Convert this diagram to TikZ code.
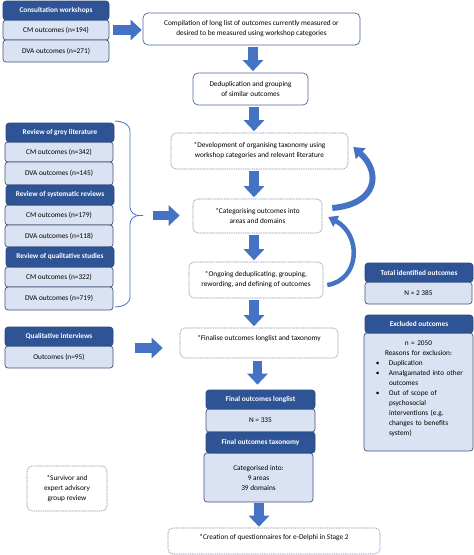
\documentclass[tikz,border=0pt]{standalone}
\usepackage{fontspec}
\setmainfont{Carlito}
\usetikzlibrary{arrows.meta,calc}
\definecolor{hdrblue}{RGB}{47,84,150}
\definecolor{hdredge}{RGB}{40,70,125}
\definecolor{lightbody}{RGB}{218,227,243}
\definecolor{bodyedge}{RGB}{68,84,116}
\definecolor{arrowblue}{RGB}{68,114,196}
\definecolor{solidedge}{RGB}{79,104,150}
\definecolor{dotedge}{RGB}{130,146,172}
\tikzset{
  every node/.style={font=\fontsize{7.3}{10}\selectfont, align=center, inner sep=1pt},
  hdr/.style={fill=hdrblue, draw=hdredge, line width=0.6pt, rounded corners=3pt, text=white, font=\fontsize{7.3}{10}\selectfont\bfseries},
  bodybox/.style={fill=lightbody, draw=bodyedge, line width=0.7pt, rounded corners=3pt},
  solidbox/.style={fill=white, draw=solidedge, line width=0.7pt, rounded corners=5pt},
  dotbox/.style={fill=white, draw=dotedge, line width=0.6pt, dash pattern=on 1.1pt off 0.7pt, rounded corners=5pt},
  fat/.style={draw=arrowblue, line width=9.5pt, -{Triangle[width=20pt,length=11pt]}, shorten <=2pt, shorten >=1.5pt},
  curvarrow/.style={draw=arrowblue, -{Triangle[width=14pt,length=10pt]}},
  bracestyle/.style={draw=arrowblue, line width=0.8pt},
}
\begin{document}
\begin{tikzpicture}[x=1pt,y=-1pt]
\useasboundingbox (0,0) rectangle (474,555);

% Consultation workshops group
\node[bodybox, minimum width=106pt, minimum height=20pt] (cm1) at (56,30) {CM outcomes (n=194)};
\node[bodybox, minimum width=106pt, minimum height=22pt] (dva1) at (56,51) {DVA outcomes (n=271)};
\node[hdr, minimum width=106pt, minimum height=19pt] (cw) at (56,10.5) {Consultation workshops};

% main column
\node[solidbox, minimum width=217pt, minimum height=32pt] (comp) at (251.5,29) {Compilation of long list of outcomes currently measured or\\desired to be measured using workshop categories};
\node[solidbox, minimum width=115pt, minimum height=32pt] (dedup) at (250.5,89) {Deduplication and grouping\\of similar outcomes};
\node[dotbox, minimum width=177pt, minimum height=36pt] (dev) at (259.5,151) {*Development of organising taxonomy using\\workshop categories and relevant literature};
\node[dotbox, minimum width=129pt, minimum height=34pt] (cat) at (257.5,216) {*Categorising outcomes into\\areas and domains};
\node[dotbox, minimum width=134pt, minimum height=36pt] (ong) at (256,280) {*Ongoing deduplicating, grouping,\\rewording, and defining of outcomes};
\node[dotbox, minimum width=158pt, minimum height=30pt] (fin) at (259,343) {*Finalise outcomes longlist and taxonomy\\\mbox{}};

% literature group
\node[bodybox, minimum width=108pt, minimum height=20pt] (cm342) at (59,152) {CM outcomes (n=342)};
\node[bodybox, minimum width=108pt, minimum height=23pt] (dva145) at (59,173.5) {DVA outcomes (n=145)};
\node[bodybox, minimum width=108pt, minimum height=20pt] (cm179) at (59,215) {CM outcomes (n=179)};
\node[bodybox, minimum width=108pt, minimum height=22pt] (dva118) at (59,236) {DVA outcomes (n=118)};
\node[bodybox, minimum width=108pt, minimum height=20pt] (cm322) at (59,277) {CM outcomes (n=322)};
\node[bodybox, minimum width=108pt, minimum height=23pt] (dva719) at (59,298.5) {DVA outcomes (n=719)};
\node[hdr, minimum width=108pt, minimum height=19pt] (grey) at (60,132.5) {Review of grey literature};
\node[hdr, minimum width=108pt, minimum height=20pt] (sysrev) at (60,195) {Review of systematic reviews};
\node[hdr, minimum width=108pt, minimum height=20pt] (qualst) at (60,257) {Review of qualitative studies};

% qualitative interviews
\node[bodybox, minimum width=108pt, minimum height=22pt] (o95) at (59,357) {Outcomes (n=95)};
\node[hdr, minimum width=108pt, minimum height=19pt] (qi) at (59,336.5) {Qualitative interviews};

% totals
\node[bodybox, minimum width=107pt, minimum height=22pt] (n2385) at (418.5,293) {N = 2 385};
\node[hdr, minimum width=108pt, minimum height=19pt] (tot) at (419,272.5) {Total identified outcomes};
\node[bodybox, minimum width=109pt, minimum height=118pt] (excbody) at (418.5,392) {};
\node[hdr, minimum width=108pt, minimum height=18pt] (exc) at (419,324) {Excluded outcomes};
\node[anchor=north, inner sep=0pt, text width=100pt, align=left] (exctext) at (418.5,340.5) {%
{\centering n = 2050\\Reasons for exclusion:\par}%
{\leftskip=20.5pt
\noindent\llap{\textbullet\hspace{9.5pt}}Duplication\par
\noindent\llap{\textbullet\hspace{9.5pt}}Amalgamated into other\par
\noindent outcomes\par
\noindent\llap{\textbullet\hspace{9.5pt}}Out of scope of\par
\noindent psychosocial\par
\noindent interventions (e.g.\par
\noindent changes to benefits\par
\noindent system)\par}};

% final outcomes
\node[bodybox, minimum width=109pt, minimum height=23pt] (n335) at (260.5,420.5) {N = 335};
\node[bodybox, minimum width=109pt, minimum height=49pt] (catinto) at (258.5,477.5) {Categorised into:\\9 areas\\39 domains};
\node[hdr, minimum width=109pt, minimum height=19pt] (fl) at (260.5,399.5) {Final outcomes longlist};
\node[hdr, minimum width=109pt, minimum height=21pt] (ft) at (260.5,442.5) {Final outcomes taxonomy};

\node[dotbox, minimum width=212pt, minimum height=26pt] (creation) at (274,541) {*Creation of questionnaires for e-Delphi in Stage 2\\[-2pt]\mbox{}};
\node[dotbox, minimum width=80pt, minimum height=45pt] (survivor) at (67,488.5) {*Survivor and\\expert advisory\\group review};

% column coordinates for arrows
\coordinate (colA) at (253,0);
\coordinate (colB) at (254,0);
\coordinate (colC) at (257.5,0);
\coordinate (colD) at (259,0);

% block arrows
\draw[fat, shorten <=4pt, shorten >=1pt] (cm1.east) -- (cm1.east -| comp.west);
\draw[fat] (comp.south -| colA) -- (dedup.north -| colA);
\draw[fat] (dedup.south -| colB) -- (dev.north -| colB);
\draw[fat] (dev.south -| colB) -- (cat.north -| colB);
\draw[fat] (cat.south -| colB) -- (ong.north -| colB);
\draw[fat] (ong.south -| colB) -- (fin.north -| colB);
\draw[fat, shorten <=3pt, shorten >=5pt] (fin.south -| colC) -- (fl.north -| colC);
\draw[fat, shorten <=1pt, shorten >=1pt] (catinto.south -| colD) -- (creation.north -| colD);

% brace
\coordinate (btip) at (143,215.5);
\draw[bracestyle] (115,121) to[out=0,in=90] (130,131) -- (130,207) to[out=-90,in=180] (139,215.5) -- (btip);
\draw[bracestyle] (139,215.5) to[out=180,in=90] (130,224) -- (130,297) to[out=-90,in=0] (115,307);
\draw[fat, shorten <=10pt, shorten >=13pt] (btip) -- (btip -| cat.west);

% qualitative interviews arrow
\coordinate (qy) at (0,348);
\draw[fat, shorten <=22pt, shorten >=17pt] (o95.east |- qy) -- (fin.west |- qy);

% curved feedback arrows
\draw[curvarrow, line width=6pt] ($(cat.east)+(10,-8)$) .. controls (378,204) and (381,172) .. ($(dev.east)+(5,-4)$);
\draw[curvarrow, line width=4.5pt, -{Triangle[width=12pt,length=9pt]}] ($(ong.east)+(4,5)$) .. controls (360,280) and (362,235) .. ($(cat.east)+(6,1)$);
\end{tikzpicture}
\end{document}
